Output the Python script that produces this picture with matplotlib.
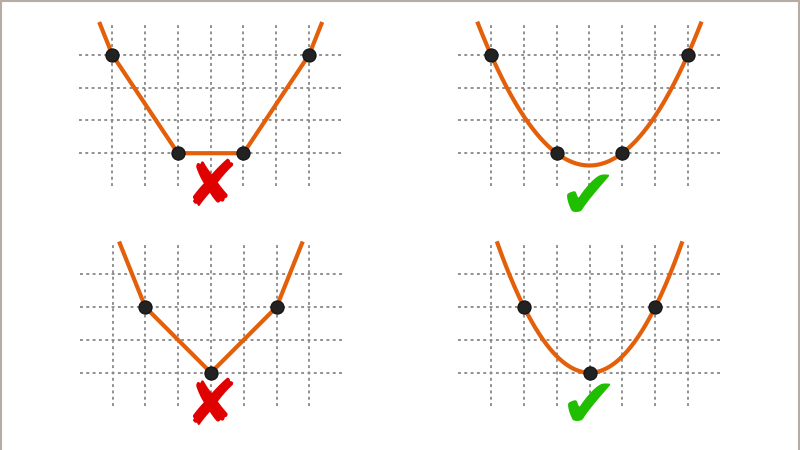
import numpy as np
import matplotlib
matplotlib.use("Agg")
import matplotlib.pyplot as plt
from matplotlib.lines import Line2D

# grid layout (in grid units)
grid_x = [0, 1, 2, 3, 4, 5, 6]
grid_y = [1, 2, 3, 4]

# top row: four sample points
top_x = [0, 2, 4, 6]
top_y = [4, 1, 1, 4]
top_wrong_x = [-0.4, 0, 2, 4, 6, 6.4]
top_wrong_y = [5, 4, 1, 1, 4, 5]
top_curve_span = (-0.42, 6.42)

# bottom row: three sample points
bot_x = [1, 3, 5]
bot_y = [3, 1, 3]
bot_wrong_x = [0.2, 1, 3, 5, 5.8]
bot_wrong_y = [5, 3, 1, 3, 5]
bot_curve_span = (0.17, 5.83)

ORANGE = "#e35f0a"
DOT = "#222222"
GRID = "#888888"
RED = "#e00000"
GREEN = "#1fbf00"

W, H = 800, 450
UNIT = 32.8  # pixels per grid unit
XLIM = (-1.2, 7.3)
YLIM = (-1.3, 5.3)

fig = plt.figure(figsize=(8, 4.5), dpi=100)


def make_axes(x0, y0):
    """x0, y0: pixel position of grid origin (from top-left)."""
    left = (x0 + XLIM[0] * UNIT) / W
    bottom = 1 - (y0 - YLIM[0] * UNIT) / H
    width = (XLIM[1] - XLIM[0]) * UNIT / W
    height = (YLIM[1] - YLIM[0]) * UNIT / H
    ax = fig.add_axes([left, bottom, width, height])
    ax.set_xlim(*XLIM)
    ax.set_ylim(*YLIM)
    ax.axis("off")
    ax.vlines(grid_x, 0, 5, colors=GRID, linewidth=1.3, linestyles=(0, (1.6, 1.9)), zorder=1)
    ax.hlines(grid_y, -1, 7, colors=GRID, linewidth=1.3, linestyles=(0, (1.6, 1.9)), zorder=1)
    return ax


def draw_points(ax, xs, ys):
    ax.plot(xs, ys, "o", markersize=9.5, markerfacecolor=DOT,
            markeredgecolor="#111111", markeredgewidth=0.8, zorder=4)


def draw_parabola(ax, xs, ys, span):
    coef = np.polyfit(xs, ys, 2)
    xx = np.linspace(span[0], span[1], 300)
    ax.plot(xx, np.polyval(coef, xx), color=ORANGE, linewidth=3, solid_capstyle="butt", zorder=3)


def wrong(ax, y):
    ax.text(3, y, "\u2718", color=RED, fontsize=46, ha="center", va="center", zorder=5)


def right(ax, y):
    ax.text(2.97, y, "\u2714", color=GREEN, fontsize=50, ha="center", va="center", zorder=5)


# top-left: piecewise linear (wrong)
ax1 = make_axes(112.3, 186)
ax1.plot(top_wrong_x, top_wrong_y, color=ORANGE, linewidth=3, solid_capstyle="butt", zorder=3)
draw_points(ax1, top_x, top_y)
wrong(ax1, -0.05)

# top-right: parabola (right)
ax2 = make_axes(491, 186)
draw_parabola(ax2, top_x, top_y, top_curve_span)
draw_points(ax2, top_x, top_y)
right(ax2, -0.38)

# bottom-left: piecewise linear (wrong)
ax3 = make_axes(112.5, 405.5)
ax3.plot(bot_wrong_x, bot_wrong_y, color=ORANGE, linewidth=3, solid_capstyle="butt", zorder=3)
draw_points(ax3, bot_x, bot_y)
wrong(ax3, -0.05)

# bottom-right: parabola (right)
ax4 = make_axes(491.2, 405.5)
draw_parabola(ax4, bot_x, bot_y, bot_curve_span)
draw_points(ax4, bot_x, bot_y)
right(ax4, -0.05)

# thin frame on left, top and right
for xs, ys in [([0.001, 0.001], [0, 1]), ([0, 1], [0.998, 0.998]), ([0.999, 0.999], [0, 1])]:
    fig.add_artist(Line2D(xs, ys, transform=fig.transFigure, color="#b5ada5", linewidth=1.5))

fig.savefig("out.png", dpi=100)
